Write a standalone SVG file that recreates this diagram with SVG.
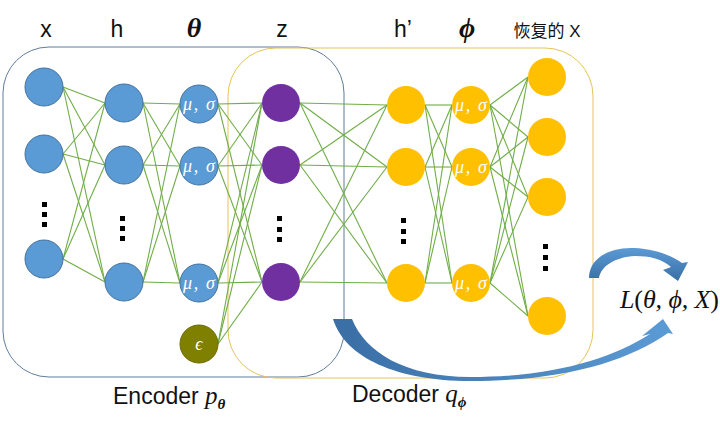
<svg xmlns="http://www.w3.org/2000/svg" width="720" height="427" viewBox="0 0 720 427">
<defs>
<style>
.lbl{font-family:"Liberation Sans","Noto Sans CJK SC",sans-serif;fill:#111;}
.math{font-family:"Liberation Serif",serif;font-style:italic;fill:#111;}
.in{font-family:"Liberation Serif",serif;font-style:italic;fill:#fff;font-size:18px;text-anchor:middle;}
.blue{fill:#5b9bd5;stroke:#41719c;stroke-width:1;}
.purple{fill:#7030a0;}
.yellow{fill:#ffc000;}
.olive{fill:#7f7f00;stroke:#6a6a00;stroke-width:1;}
.c line{stroke:#70ad47;stroke-width:1.1;}
.dot{fill:#000;}
</style>
<linearGradient id="ag" x1="0" y1="0" x2="1" y2="0">
<stop offset="0" stop-color="#3a6ea5"/>
<stop offset="1" stop-color="#5b9bd5"/>
</linearGradient>
<linearGradient id="ag2" x1="0" y1="0" x2="0" y2="1">
<stop offset="0" stop-color="#5b9bd5"/>
<stop offset="1" stop-color="#3a6ea5"/>
</linearGradient>
</defs>
<rect width="720" height="427" fill="#fff"/>

<g id="encoder-box"><rect x="3" y="47" width="341" height="330" rx="46" fill="none" stroke="#5f7d9c" stroke-width="1"/></g>
<g id="decoder-box"><rect x="228" y="48" width="365" height="330" rx="48" fill="none" stroke="#e6c456" stroke-width="1"/></g>

<g id="connectors" class="c">
<line x1="63" y1="87" x2="105" y2="103"/><line x1="63" y1="87" x2="105" y2="165"/><line x1="63" y1="87" x2="105" y2="282"/>
<line x1="63" y1="154" x2="105" y2="103"/><line x1="63" y1="154" x2="105" y2="165"/><line x1="63" y1="154" x2="105" y2="282"/>
<line x1="63" y1="259" x2="105" y2="103"/><line x1="63" y1="259" x2="105" y2="165"/><line x1="63" y1="259" x2="105" y2="282"/>

<line x1="143" y1="103" x2="180" y2="104"/><line x1="143" y1="103" x2="180" y2="166"/><line x1="143" y1="103" x2="180" y2="283"/>
<line x1="143" y1="165" x2="180" y2="104"/><line x1="143" y1="165" x2="180" y2="166"/><line x1="143" y1="165" x2="180" y2="283"/>
<line x1="143" y1="282" x2="180" y2="104"/><line x1="143" y1="282" x2="180" y2="166"/><line x1="143" y1="282" x2="180" y2="283"/>

<line x1="218" y1="104" x2="262" y2="103"/><line x1="218" y1="104" x2="262" y2="165"/><line x1="218" y1="104" x2="262" y2="282"/>
<line x1="218" y1="166" x2="262" y2="103"/><line x1="218" y1="166" x2="262" y2="165"/><line x1="218" y1="166" x2="262" y2="282"/>
<line x1="218" y1="283" x2="262" y2="103"/><line x1="218" y1="283" x2="262" y2="165"/><line x1="218" y1="283" x2="262" y2="282"/>
<line x1="218" y1="344" x2="262" y2="103"/><line x1="218" y1="344" x2="262" y2="165"/><line x1="218" y1="344" x2="262" y2="282"/>

<line x1="300" y1="103" x2="387" y2="105"/><line x1="300" y1="103" x2="387" y2="167"/><line x1="300" y1="103" x2="387" y2="283"/>
<line x1="300" y1="165" x2="387" y2="105"/><line x1="300" y1="165" x2="387" y2="167"/><line x1="300" y1="165" x2="387" y2="283"/>
<line x1="300" y1="282" x2="387" y2="105"/><line x1="300" y1="282" x2="387" y2="167"/><line x1="300" y1="282" x2="387" y2="283"/>

<line x1="425" y1="105" x2="452" y2="105"/><line x1="425" y1="105" x2="452" y2="167"/><line x1="425" y1="105" x2="452" y2="283"/>
<line x1="425" y1="167" x2="452" y2="105"/><line x1="425" y1="167" x2="452" y2="167"/><line x1="425" y1="167" x2="452" y2="283"/>
<line x1="425" y1="283" x2="452" y2="105"/><line x1="425" y1="283" x2="452" y2="167"/><line x1="425" y1="283" x2="452" y2="283"/>

<line x1="490" y1="105" x2="528" y2="77"/><line x1="490" y1="105" x2="528" y2="137"/><line x1="490" y1="105" x2="528" y2="197"/><line x1="490" y1="105" x2="528" y2="316"/>
<line x1="490" y1="167" x2="528" y2="77"/><line x1="490" y1="167" x2="528" y2="137"/><line x1="490" y1="167" x2="528" y2="197"/><line x1="490" y1="167" x2="528" y2="316"/>
<line x1="490" y1="283" x2="528" y2="77"/><line x1="490" y1="283" x2="528" y2="137"/><line x1="490" y1="283" x2="528" y2="197"/><line x1="490" y1="283" x2="528" y2="316"/>
</g>

<g id="x1"><circle class="blue" cx="44" cy="87" r="19"/></g>
<g id="x2"><circle class="blue" cx="44" cy="154" r="19"/></g>
<g id="x3"><circle class="blue" cx="44" cy="259" r="19"/></g>
<g id="x-dots"><rect class="dot" x="42" y="202" width="5" height="5"/><rect class="dot" x="42" y="212" width="5" height="5"/><rect class="dot" x="42" y="222" width="5" height="5"/></g>

<g id="h1"><circle class="blue" cx="124" cy="103" r="19"/></g>
<g id="h2"><circle class="blue" cx="124" cy="165" r="19"/></g>
<g id="h3"><circle class="blue" cx="124" cy="282" r="19"/></g>
<g id="h-dots"><rect class="dot" x="120" y="216" width="5" height="5"/><rect class="dot" x="120" y="226" width="5" height="5"/><rect class="dot" x="120" y="236" width="5" height="5"/></g>

<g id="theta1"><circle class="blue" cx="199" cy="104" r="19"/><text class="in" x="199" y="110" textLength="32">μ, σ</text></g>
<g id="theta2"><circle class="blue" cx="199" cy="166" r="19"/><text class="in" x="199" y="172" textLength="32">μ, σ</text></g>
<g id="theta3"><circle class="blue" cx="199" cy="283" r="19"/><text class="in" x="199" y="289" textLength="32">μ, σ</text></g>
<g id="epsilon"><circle class="olive" cx="199" cy="344" r="19"/><text class="in" x="199" y="350">ϵ</text></g>

<g id="z1"><circle class="purple" cx="281" cy="103" r="19"/></g>
<g id="z2"><circle class="purple" cx="281" cy="165" r="19"/></g>
<g id="z3"><circle class="purple" cx="281" cy="282" r="19"/></g>
<g id="z-dots"><rect class="dot" x="277" y="216" width="5" height="5"/><rect class="dot" x="277" y="227" width="5" height="5"/><rect class="dot" x="277" y="237" width="5" height="5"/></g>

<g id="hp1"><circle class="yellow" cx="406" cy="105" r="19"/></g>
<g id="hp2"><circle class="yellow" cx="406" cy="167" r="19"/></g>
<g id="hp3"><circle class="yellow" cx="406" cy="283" r="19"/></g>
<g id="hp-dots"><rect class="dot" x="401" y="218" width="5" height="5"/><rect class="dot" x="401" y="229" width="5" height="5"/><rect class="dot" x="401" y="239" width="5" height="5"/></g>

<g id="phi1"><circle class="yellow" cx="471" cy="105" r="19"/><text class="in" x="471" y="111" textLength="32">μ, σ</text></g>
<g id="phi2"><circle class="yellow" cx="471" cy="167" r="19"/><text class="in" x="471" y="173" textLength="32">μ, σ</text></g>
<g id="phi3"><circle class="yellow" cx="471" cy="283" r="19"/><text class="in" x="471" y="289" textLength="32">μ, σ</text></g>

<g id="out1"><circle class="yellow" cx="547" cy="77" r="19"/></g>
<g id="out2"><circle class="yellow" cx="547" cy="137" r="19"/></g>
<g id="out3"><circle class="yellow" cx="547" cy="197" r="19"/></g>
<g id="out4"><circle class="yellow" cx="547" cy="316" r="19"/></g>
<g id="out-dots"><rect class="dot" x="543" y="244" width="5" height="5"/><rect class="dot" x="543" y="255" width="5" height="5"/><rect class="dot" x="543" y="266" width="5" height="5"/></g>

<g id="arrows">
<path d="M333,319 L352,319 C365,352 405,377 470,377 C550,377 610,360 650,334 L642,336 L663,319 L673,334 L668,333 C625,363 560,381 470,381 C398,381 345,358 333,319 Z" fill="url(#ag)"/>
<path d="M589,278 C589,258 610,247 634,248 C656,249 672,256 682,263 L688,262 L678,281 L663,270 L671,267 C662,259 650,256 635,256 C615,257 601,266 599,278 Z" fill="url(#ag2)"/>
</g>

<g id="labels">
<text class="lbl" x="46" y="37" font-size="23" text-anchor="middle">x</text>
<text class="lbl" x="117" y="37" font-size="23" text-anchor="middle">h</text>
<text class="math" x="194" y="37" font-size="28" font-weight="bold" text-anchor="middle">θ</text>
<text class="lbl" x="282" y="37" font-size="23" text-anchor="middle">z</text>
<text class="lbl" x="403" y="37" font-size="23" text-anchor="middle">h’</text>
<text class="math" x="467" y="37" font-size="28" font-weight="bold" text-anchor="middle">ϕ</text>
<text class="lbl" x="547" y="37" font-size="17" text-anchor="middle">恢复的 X</text>
<text class="lbl" x="113" y="404" font-size="23">Encoder <tspan class="math" font-size="25">p</tspan><tspan class="math" font-size="15" font-weight="bold" dy="5">θ</tspan></text>
<text class="lbl" x="352" y="402" font-size="23">Decoder <tspan class="math" font-size="25">q</tspan><tspan class="math" font-size="15" font-weight="bold" dy="5">ϕ</tspan></text>
<text class="math" x="620" y="308" font-size="26" textLength="99">L<tspan font-style="normal">(</tspan>θ, ϕ, X<tspan font-style="normal">)</tspan></text>
</g>
</svg>
